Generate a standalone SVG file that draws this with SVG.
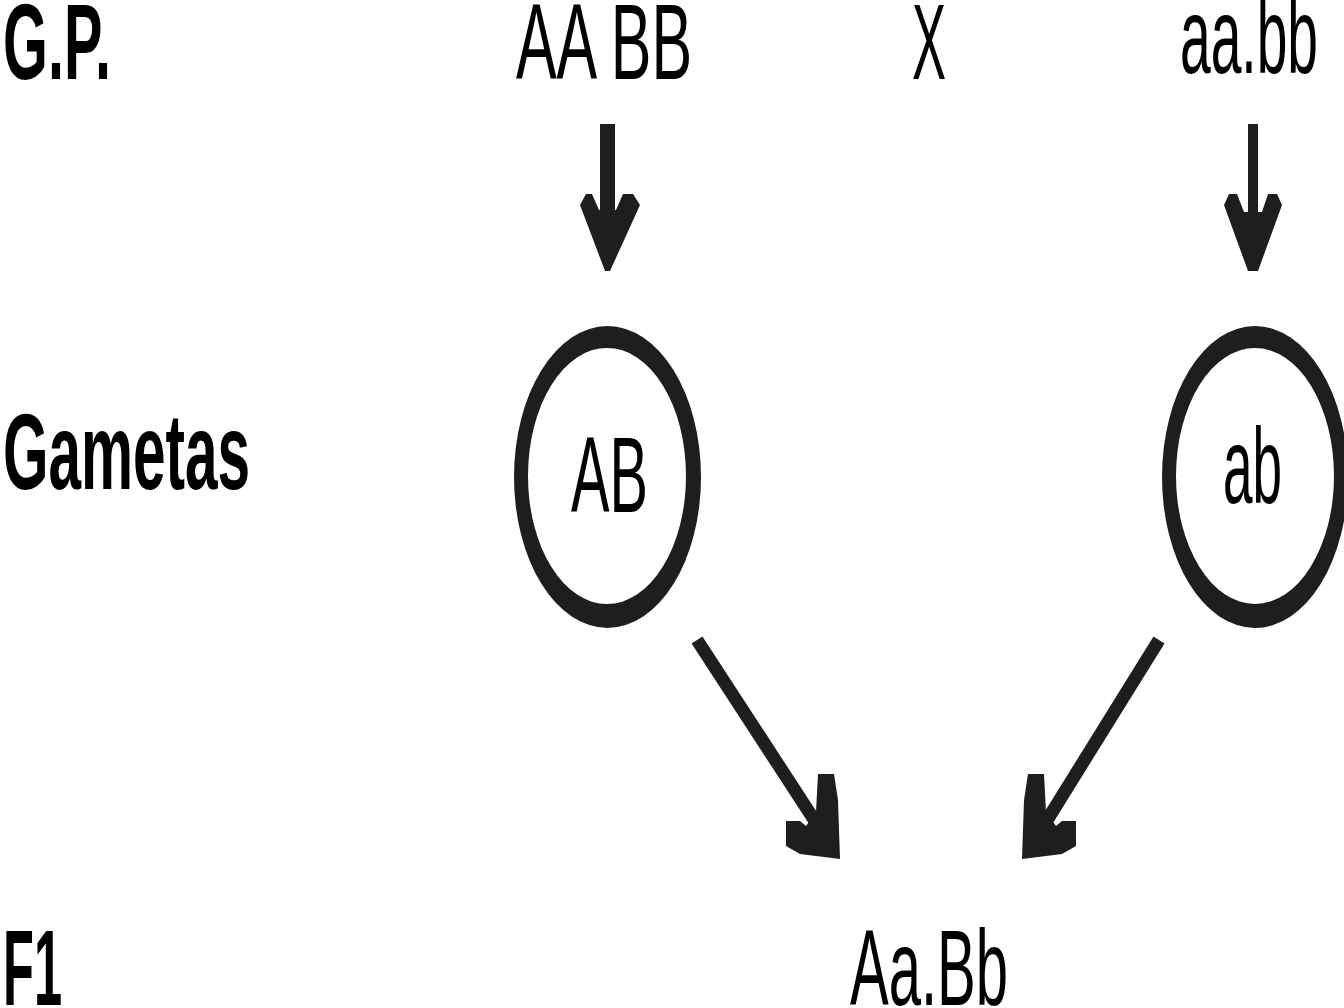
<svg xmlns="http://www.w3.org/2000/svg" width="1344" height="1008" viewBox="0 0 1344 1008">
  <style>
    .lbl { font-family: "Liberation Sans", Arial, sans-serif; font-weight: bold; font-size: 107px; fill: #000; }
    .gen { font-family: "Liberation Sans", Arial, sans-serif; font-weight: normal; font-size: 107px; fill: #000; }
    .gam { fill: #1e1e1e; fill-rule: evenodd; stroke: none; }
    .shaft { stroke: #1e1e1e; fill: none; }
    .head { fill: #1e1e1e; stroke: none; }
  </style>
  <rect width="1344" height="1008" fill="#ffffff"/>

  <g id="label-gp"><text class="lbl" x="3" y="79" textLength="108" lengthAdjust="spacingAndGlyphs">G.P.</text></g>
  <g id="label-gametas"><text class="lbl" x="3" y="489" font-size="109" textLength="247" lengthAdjust="spacingAndGlyphs">Gametas</text></g>
  <g id="label-f1"><text class="lbl" x="3" y="1005" textLength="59" lengthAdjust="spacingAndGlyphs">F1</text></g>

  <g id="parent-AABB"><text class="gen" x="516" y="79" textLength="176" lengthAdjust="spacingAndGlyphs">AA BB</text></g>
  <g id="cross-x"><text class="gen" x="912" y="79" textLength="34" lengthAdjust="spacingAndGlyphs">X</text></g>
  <g id="parent-aabb"><text class="gen" x="1180" y="73" textLength="138" lengthAdjust="spacingAndGlyphs">aa.bb</text></g>

  <g id="gamete-AB">
    <path class="gam" d="M514 477 A93.5 151 0 1 0 701 477 A93.5 151 0 1 0 514 477 Z M528 476 A79 128 0 1 0 686 476 A79 128 0 1 0 528 476 Z"/>
    <text class="gen" x="571" y="512" font-size="109" textLength="77" lengthAdjust="spacingAndGlyphs">AB</text>
  </g>
  <g id="gamete-ab">
    <path class="gam" d="M1162 477 A93 151 0 1 0 1348 477 A93 151 0 1 0 1162 477 Z M1176 476 A79 128 0 1 0 1334 476 A79 128 0 1 0 1176 476 Z"/>
    <text class="gen" x="1223" y="503" font-size="105" textLength="59" lengthAdjust="spacingAndGlyphs">ab</text>
  </g>

  <g id="f1-AaBb"><text class="gen" x="850" y="1005" textLength="158" lengthAdjust="spacingAndGlyphs">Aa.Bb</text></g>

  <g id="connectors">
    <line class="shaft" x1="607.5" y1="124" x2="607.5" y2="220" stroke-width="15"/>
    <polygon class="head" points="586,194 592,194 599,210 616,210 623,194 633,194 640,205 610,271 605,271 580,205"/>
    <line class="shaft" x1="1253" y1="124" x2="1253" y2="220" stroke-width="10"/>
    <polygon class="head" points="1229,194 1237,194 1244,212 1262,212 1268,194 1277,194 1282,205 1258,271 1248,271 1224,205"/>
    <line class="shaft" x1="697" y1="640" x2="826" y2="838" stroke-width="13"/>
    <polygon class="head" points="840,859 838,800 834,774 818,774 816,812 806,826 800,821 786,821 786,846 800,854"/>
    <line class="shaft" x1="1159" y1="640" x2="1036" y2="838" stroke-width="13"/>
    <polygon class="head" points="1022,859 1024,800 1028,774 1044,774 1046,812 1056,826 1062,821 1076,821 1076,846 1062,854"/>
  </g>
</svg>
